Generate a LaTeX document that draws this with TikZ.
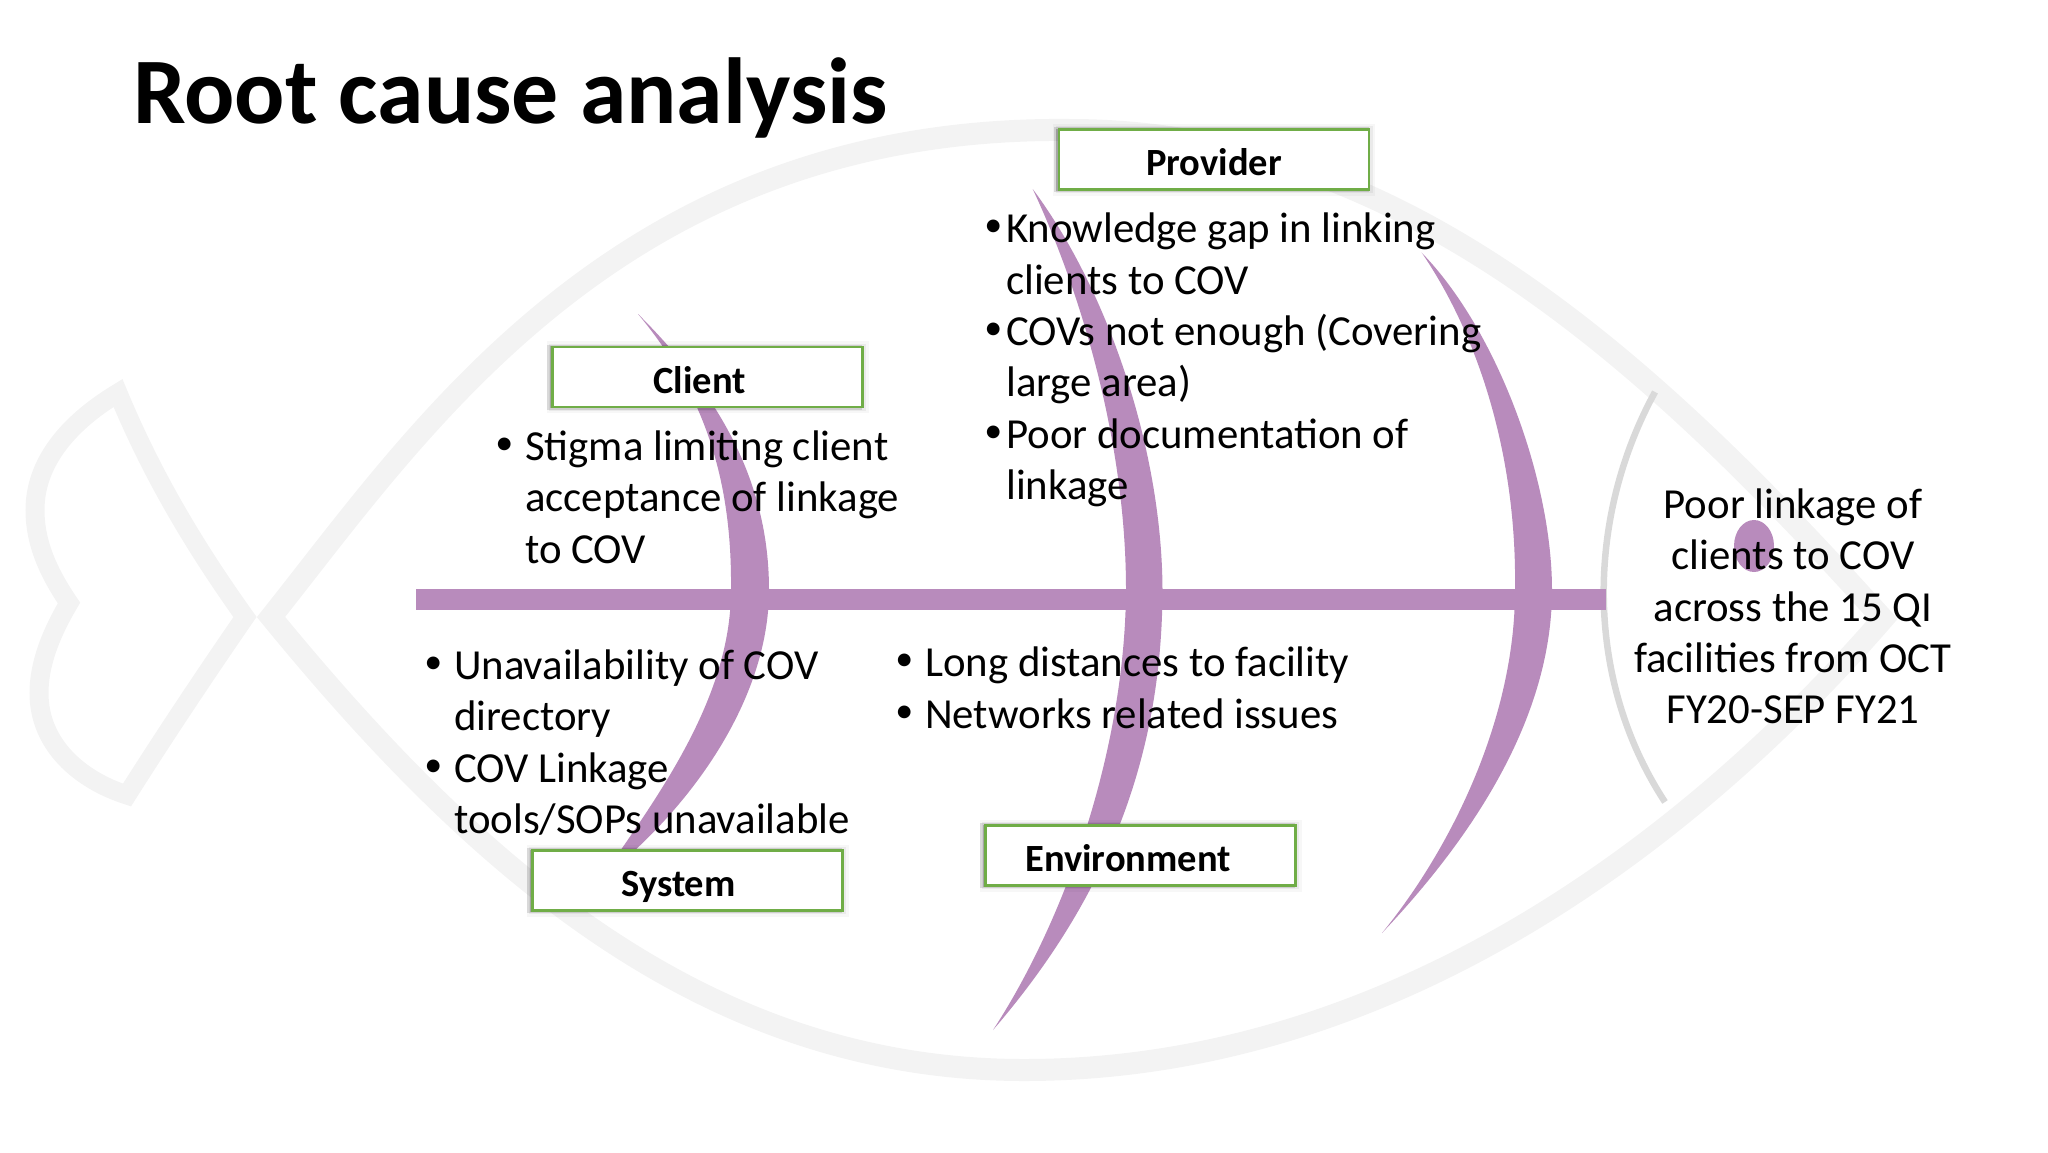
\documentclass[tikz,border=0pt]{standalone}
\usepackage{fontspec}
\setmainfont{Carlito}
\definecolor{fishgray}{HTML}{F3F3F3}
\definecolor{gillgray}{HTML}{D9D9D9}
\definecolor{bone}{HTML}{B88BBC}
\definecolor{boxgreen}{HTML}{70AD47}
\newcommand{\bul}[1]{\llap{\raisebox{6pt}{\fontsize{36}{36}\selectfont\textbullet}\hspace{#1}}}
\tikzset{
  fishline/.style={draw=fishgray,line width=22pt,line join=miter,miter limit=10},
  tailline/.style={draw=fishgray,line width=19pt,line join=miter,miter limit=10},
  bonefill/.style={fill=bone,draw=none},
  catbox/.style={draw=boxgreen,line width=2.5pt,fill=white,minimum width=310pt,minimum height=60pt,inner sep=0pt,
    preaction={draw=black,line width=12pt,opacity=.03},
    preaction={draw=black,line width=7pt,opacity=.05},
    preaction={draw=black,line width=5pt,opacity=.12,transform canvas={xshift=-3pt}},
    preaction={draw=black,line width=2pt,opacity=.2,transform canvas={xshift=-2pt}}},
  catlabel/.style={font=\fontsize{38.5}{45}\bfseries\selectfont,inner sep=0pt,anchor=base},
  bodytext/.style={font=\fontsize{42.8}{51.3}\selectfont,inner sep=0pt,align=left,anchor=north west},
}
\begin{document}
\begin{tikzpicture}[x=1pt,y=-1pt]
  \useasboundingbox (0,0) rectangle (2048,1152);

  % fish outline
  \draw[fishline] (271,617) .. controls (420,430) and (620,125) .. (1070,130)
    .. controls (1400,130) and (1650,360) .. (1883,619)
    .. controls (1700,830) and (1400,1070) .. (1024,1070)
    .. controls (700,1070) and (470,860) .. cycle;
  \draw[tailline] (245,617) .. controls (190,540) and (150,470) .. (118,393)
    .. controls (65,425) and (35,465) .. (35,510)
    .. controls (35,545) and (50,575) .. (69,603)
    .. controls (50,635) and (39,665) .. (39,693)
    .. controls (39,745) and (80,780) .. (127,795)
    .. controls (165,735) and (205,675) .. cycle;

  % gill
  \draw[gillgray,line width=6.5pt] (1655,392) .. controls (1585,520) and (1585,680) .. (1665,802);

  % ribs
  \fill[bonefill] (638,314) .. controls (735,410) and (769,500) .. (769,590)
    .. controls (769,700) and (690,810) .. (600,880)
    .. controls (655,800) and (731,700) .. (731,590)
    .. controls (732,490) and (710,400) .. cycle;
  \fill[bonefill] (1032.7,189) .. controls (1108,290) and (1162,450) .. (1162.5,590)
    .. controls (1162,760) and (1105,900) .. (993,1030)
    .. controls (1065,920) and (1125,750) .. (1126,590)
    .. controls (1126,440) and (1080,290) .. cycle;
  \fill[bonefill] (1421.7,252.7) .. controls (1497,330) and (1552,480) .. (1552,590)
    .. controls (1552,720) and (1470,840) .. (1382,933)
    .. controls (1450,850) and (1515,720) .. (1515,590)
    .. controls (1517,455) and (1478,335) .. cycle;

  % spine and eye
  \fill[bonefill] (416,589) rectangle (1606,610);
  \fill[bonefill] (1754,546) ellipse [x radius=20,y radius=26];

  % category boxes
  \node[catbox] (client) at (707.5,377) {};
  \node[catbox] (provider) at (1214,159.5) {};
  \node[catbox] (system) at (687.5,880.5) {};
  \node[catbox] (environment) at (1140.5,855.5) {};

  \node[catlabel] (clientlabel) at (699.5,393) {Client};
  \node[catlabel] (providerlabel) at (1214,175) {Provider};
  \node[catlabel] (systemlabel) at (678.5,896) {System};
  \node[catlabel] (environmentlabel) at (1128,871) {Environment};

  % title
  \node[font=\fontsize{93.8}{110}\bfseries\selectfont,inner sep=0pt,anchor=base west] (title) at (133,123) {Root cause analysis};

  % causes
  \node[bodytext] (clienttext) at (525,430.5) {\bul{12pt}Stigma limiting client\\acceptance of linkage\\to COV};
  \node[bodytext] (providertext) at (1006,213) {\bul{4pt}Knowledge gap in linking\\clients to COV\\\bul{4pt}COVs not enough (Covering\\large area)\\\bul{4pt}Poor documentation of\\linkage};
  \node[bodytext] (systemtext) at (454,649.5) {\bul{12pt}Unavailability of COV\\directory\\\bul{12pt}COV Linkage\\tools/SOPs unavailable};
  \node[bodytext] (environmenttext) at (925,647) {\bul{12pt}Long distances to facility\\\bul{12pt}Networks related issues};

  % effect
  \node[font=\fontsize{42.8}{51.3}\selectfont,inner sep=0pt,align=center,anchor=north] (effect) at (1793,488.5) {Poor linkage of\\clients to COV\\across the 15 QI\\facilities from OCT\\FY20-SEP FY21};
\end{tikzpicture}
\end{document}
